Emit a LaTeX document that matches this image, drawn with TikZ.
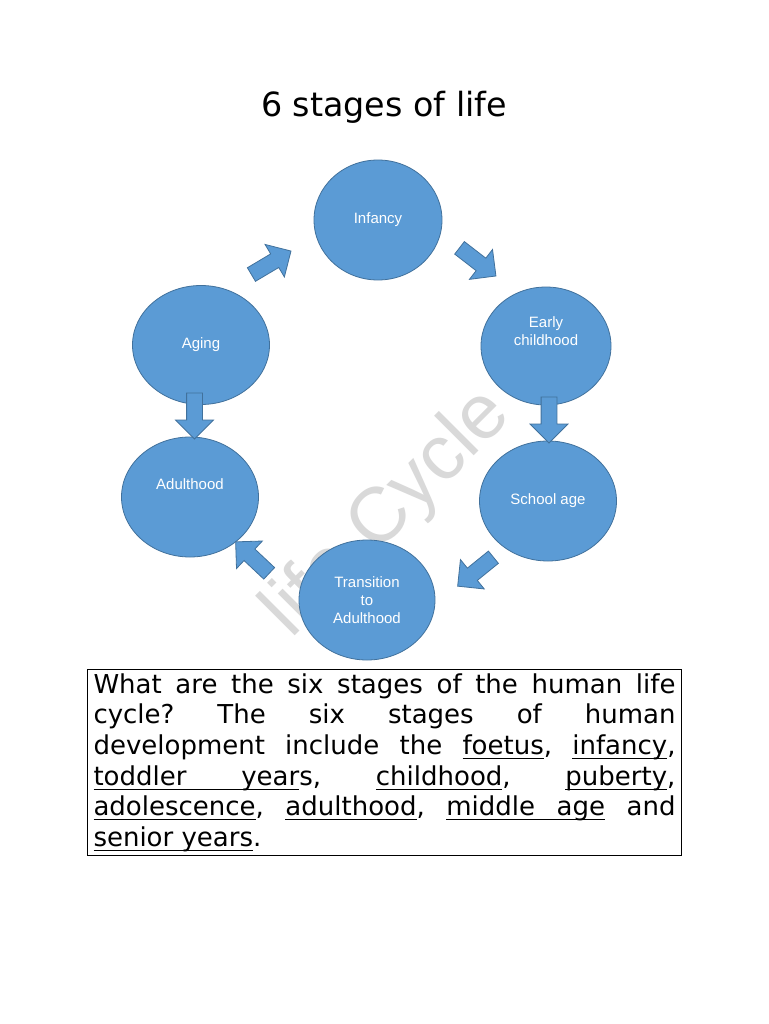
\documentclass[tikz,border=0pt]{standalone}
\usepackage{fontspec}
\setmainfont{DejaVu Sans}
\newfontfamily\arialfont{Liberation Sans}
\usetikzlibrary{shapes.geometric,shapes.arrows}
\definecolor{stageblue}{HTML}{5B9BD5}
\definecolor{stageline}{HTML}{41719C}
\definecolor{markgray}{HTML}{D9D9D9}
\tolerance=10000
\hbadness=10000
\frenchspacing
% underlined word, and underlined stretchable space
\newcommand{\uwd}[1]{\setbox0\hbox{#1}\rlap{\vrule width\wd0 height-2.6pt depth3.6pt}\box0\relax}
\newcommand{\ulspace}{\leaders\hrule height-2.6pt depth3.6pt\hskip\fontdimen2\font plus\fontdimen3\font minus\fontdimen4\font}

\begin{document}
\begin{tikzpicture}[x=0.75pt, y=-0.75pt,
  stage/.style={ellipse, draw=stageline, fill=stageblue, line width=0.6pt, inner sep=0pt, minimum width=102.75pt, minimum height=90pt, text=white, align=center, font=\arialfont\fontsize{11.25}{13.5}\selectfont},
  stagetext/.style={text=white, align=center, inner sep=0pt, font=\arialfont\fontsize{11.25}{13.5}\selectfont},
  blockarrow/.style={single arrow, draw=stageline, fill=stageblue, line width=0.6pt, inner xsep=0pt, inner ysep=5.625pt, minimum height=34.5pt, single arrow head extend=8.25pt},
  watermark/.style={text=markgray, font=\arialfont\fontsize{58}{58}\selectfont, rotate=45, anchor=center, inner sep=0pt},
  textbox/.style={draw, line width=0.75pt, text width=436.5pt, inner xsep=4.5pt, inner ysep=3pt, align=justify, font=\fontsize{19.5}{22.95}\selectfont}]
\fill[white] (0,0) rectangle (768,1024);
\useasboundingbox (0,0) rectangle (768,1024);

\node[font=\fontsize{25}{29}\selectfont, anchor=base] (title) at (384,116) {6 stages of life};

\node[watermark] (mark) at (388,514) {life Cycle};

\node[stage, minimum width=96pt] (infancy) at (378,220) {Infancy};
\node[stage, minimum width=97.5pt, minimum height=88.5pt] (early) at (546,346) {};
\node[stagetext] (earlytext) at ([yshift=11.25pt]early.center) {Early\\childhood};
\node[stage] (school) at (548,501) {School age};
\node[stage, minimum width=102pt] (transition) at (367,600) {Transition\\to\\Adulthood};
\node[stage] (adult) at (190,497) {};
\node[stagetext] (adulttext) at ([yshift=9.75pt]adult.center) {Adulthood};
\node[stage, minimum height=89.25pt] (aging) at (201,345) {Aging};

\node[blockarrow, rotate=30.7] (a1) at (267.8,264.8) {};
\node[blockarrow, rotate=-37.7] (a2) at (474.6,259.5) {};
\node[blockarrow, rotate=-90] (a3) at (549,416) {};
\node[blockarrow, rotate=-141] (a4) at (478.6,569.2) {};
\node[blockarrow, rotate=136.8] (a5) at (255.3,560.3) {};
\node[blockarrow, rotate=-90] (a6) at (194.5,412) {};

\node[textbox, anchor=north west] (desc) at (87,669) {What are the six stages of the human life\linebreak cycle? The six stages of human\linebreak development include the \uwd{foetus}, \uwd{infancy},\linebreak \uwd{toddler}\ulspace\uwd{year}s, \uwd{childhood}, \uwd{puberty},\linebreak \uwd{adolescence}, \uwd{adulthood}, \uwd{middle}\ulspace\uwd{age} and\linebreak \uwd{senior}\ulspace\uwd{years}.};
\end{tikzpicture}
\end{document}
